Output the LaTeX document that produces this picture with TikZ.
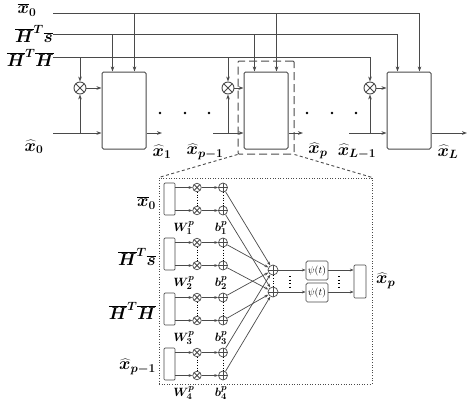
\documentclass[tikz,border=0pt]{standalone}
\usepackage{bm}
\usetikzlibrary{arrows.meta,calc}
\definecolor{lc}{HTML}{4A4A4A}
\newcommand{\xbar}{\overline{\bm x}}
\newcommand{\xhat}{\widehat{\bm x}}
\newcommand{\Hbar}{\overline{\bm H}}
\newcommand{\sbar}{\overline{\bm s}}
\begin{document}
\begin{tikzpicture}[x=1pt,y=-1pt,
  ln/.style={draw=lc, line width=1pt},
  arr/.style={ln, -{Stealth[length=5pt,width=3.6pt]}},
  sarr/.style={draw=lc, line width=0.7pt, -{Stealth[length=3.8pt,width=2.8pt]}},
  blk/.style={draw=lc, line width=1pt, rounded corners=1.5pt, minimum width=44pt, minimum height=77pt, inner sep=0pt},
  mul/.style={circle, draw=lc, line width=0.9pt, minimum size=12pt, inner sep=0pt,
    path picture={\draw[lc, line width=0.9pt] (path picture bounding box.north west)--(path picture bounding box.south east)
      (path picture bounding box.north east)--(path picture bounding box.south west);}},
  smul/.style={mul, line width=0.7pt, minimum size=8.5pt},
  sadd/.style={circle, draw=lc, line width=0.7pt, minimum size=9pt, inner sep=0pt,
    path picture={\draw[lc, line width=0.7pt] (path picture bounding box.north)--(path picture bounding box.south)
      (path picture bounding box.east)--(path picture bounding box.west);}},
  srect/.style={draw=lc, line width=0.7pt, rounded corners=1pt, minimum width=11pt, minimum height=32pt, inner sep=0pt},
  psib/.style={draw=lc, line width=0.7pt, rounded corners=1.5pt, minimum width=22pt, minimum height=19pt, inner sep=0pt, font=\fontsize{10}{11}\selectfont},
  lbl/.style={font=\fontsize{18}{22}\selectfont, inner sep=0pt},
  slbl/.style={font=\fontsize{13}{15}\selectfont, inner sep=0pt},
  vdots/.style={draw=black, line width=1.4pt, dash pattern=on 1.4pt off 2.1pt},
  sdots/.style={draw=black, line width=1pt, dash pattern=on 1pt off 1.6pt}
]
\useasboundingbox (0,0) rectangle (474,402);

% --- top level ---
\node[blk] (b1) at (124,110.5) {};
\node[blk] (b2) at (266,110.5) {};
\node[blk] (b3) at (409,110.5) {};
\node[mul] (m1) at (80,88) {};
\node[mul] (m2) at (228,88) {};
\node[mul] (m3) at (370,88) {};

\foreach \b in {1,2,3}{
  \coordinate (b\b a) at ($(b\b.north west)+(11,0)$);
  \coordinate (b\b b) at ($(b\b.north west)+(33,0)$);
}
\coordinate (sx) at (53,13);
\coordinate (sh) at (53,34);
\coordinate (shh) at (53,57);
\coordinate (sx0) at (53,133);
\coordinate (sp) at (213,133);
\coordinate (sL) at (349,133);
\coordinate (o1) at (162,133);
\coordinate (o2) at (303,133);
\coordinate (o3) at (467,133);

\draw[arr] (sx) -| (b3b);
\draw[arr] (sx -| b1b) -- (b1b);
\draw[arr] (sx -| b2b) -- (b2b);
\draw[arr] (sh) -| (b3a);
\draw[arr] (sh -| b1a) -- (b1a);
\draw[arr] (sh -| b2a) -- (b2a);
\draw[arr] (shh) -| (m3);
\draw[arr] (shh -| m1) -- (m1);
\draw[arr] (shh -| m2) -- (m2);

\draw[arr] (sx0) -- (sx0 -| b1.west);
\draw[arr] (sx0 -| m1) -- (m1);
\draw[arr] (m1) -- (m1 -| b1.west);
\draw[arr] (sx0 -| b1.east) -- (o1);

\draw[arr] (sp) -- (sp -| b2.west);
\draw[arr] (sp -| m2) -- (m2);
\draw[arr] (m2) -- (m2 -| b2.west);
\draw[arr] (sp -| b2.east) -- (o2);

\draw[arr] (sL) -- (sL -| b3.west);
\draw[arr] (sL -| m3) -- (m3);
\draw[arr] (m3) -- (m3 -| b3.west);
\draw[arr] (sL -| b3.east) -- (o3);

\foreach \x in {160,185,209,307,332,356}{
  \fill[black] (\x,113) circle (1.3pt);
}

% dashed highlight and zoom box
\node[draw=lc, line width=1pt, dash pattern=on 8pt off 4pt, rounded corners=1pt,
  minimum width=56pt, minimum height=93pt, inner sep=0pt] (db) at (266,107.5) {};
\node[draw=lc, line width=0.9pt, dash pattern=on 1pt off 1.6pt,
  minimum width=213pt, minimum height=206pt, inner sep=0pt] (zb) at (265.5,281) {};
\draw[lc, line width=0.9pt, dash pattern=on 3pt off 2.5pt] (db.south west) -- (zb.north west);
\draw[lc, line width=0.9pt, dash pattern=on 3pt off 2.5pt] (db.south east) -- (zb.north east);

% labels top
\node[lbl] (Lx) at (27,10) {$\xbar_{\bm 0}$};
\node[lbl, anchor=east] (Lh) at (53,34) {$\Hbar^{\bm T}\sbar$};
\node[lbl, anchor=east] (Lhh) at (54,58) {$\Hbar^{\bm T}\Hbar$};
\node[lbl] (Lx0) at (34,147) {$\xhat_{\bm 0}$};
\node[lbl] (Lx1) at (162,152) {$\xhat_{\bm 1}$};
\node[lbl] (Lxp1) at (205,152) {$\xhat_{\bm{p-1}}$};
\node[lbl] (Lxp) at (318,151) {$\xhat_{\bm p}$};
\node[lbl] (LxL1) at (357,152) {$\xhat_{\bm{L-1}}$};
\node[lbl] (LxL) at (448,152) {$\xhat_{\bm L}$};

% --- zoomed network ---
\node[sadd, minimum size=10pt] (ma1) at (273,270) {};
\node[sadd, minimum size=10pt] (ma2) at (273,292) {};
\foreach \g/\c in {1/199,2/254,3/309,4/364}{
  \node[srect] (r\g) at (169.5,\c) {};
  \node[smul] (mt\g) at (197,\c-11.5) {};
  \node[smul] (mb\g) at (197,\c+11.5) {};
  \node[sadd] (at\g) at (223,\c-11.5) {};
  \node[sadd] (ab\g) at (223,\c+11.5) {};
  \draw[sarr] (r\g.east |- mt\g) -- (mt\g);
  \draw[sarr] (r\g.east |- mb\g) -- (mb\g);
  \draw[sarr] (mt\g) -- (at\g);
  \draw[sarr] (mb\g) -- (ab\g);
  \draw[sarr] (at\g) -- (ma1);
  \draw[sarr] (ab\g) -- (ma2);
  \draw[sdots] (mt\g.south) -- (mb\g.north);
  \draw[sdots] (at\g.south) -- (ab\g.north);
  \node[slbl] (W\g) at (184,\c+29) {$\bm W^{\bm p}_{\bm \g}$};
  \node[slbl] (bb\g) at (221,\c+29) {$\bm b^{\bm p}_{\bm \g}$};
}
\node[lbl, anchor=east] (I1) at (156,203) {$\xbar_{\bm 0}$};
\node[lbl, anchor=east] (I2) at (156,257) {$\Hbar^{\bm T}\sbar$};
\node[lbl, anchor=east] (I3) at (156,311) {$\Hbar^{\bm T}\Hbar$};
\node[lbl, anchor=east] (I4) at (156,367) {$\xhat_{\bm{p-1}}$};

\node[psib] (p1) at (317,270.5) {$\psi(t)$};
\node[psib] (p2) at (317,292.5) {$\psi(t)$};
\node[srect, minimum width=12pt, minimum height=33pt] (ro) at (360,281.5) {};
\draw[sarr] (ma1) -- (p1.west |- ma1);
\draw[sarr] (ma2) -- (p2.west |- ma2);
\draw[sarr] (p1.east |- ma1) -- (ro.west |- ma1);
\draw[sarr] (p2.east |- ma2) -- (ro.west |- ma2);
\draw[vdots] (290,276) -- (290,288);
\draw[vdots] (339,276) -- (339,288);
\draw[sdots] (ma1.south) -- (ma2.north);
\node[lbl, anchor=west] (Ixp) at (376,281) {$\xhat_{\bm p}$};
\end{tikzpicture}
\end{document}
